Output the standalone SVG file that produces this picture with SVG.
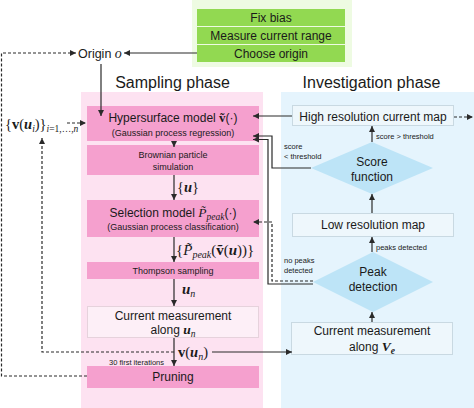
<svg xmlns="http://www.w3.org/2000/svg" width="474" height="408" viewBox="0 0 474 408">
<style>
.t{font-family:"Liberation Sans",Arial,sans-serif;fill:#1a1a1a}
.m{font-family:"Liberation Serif","DejaVu Serif",serif;fill:#1a1a1a}
.c{text-anchor:middle}
.pk{fill:#f5a0ce}
.bx{fill:#eef7fc;stroke:#c9d9e2;stroke-width:1}
.gr{fill:#92d951}
.ln{fill:none;stroke:#2a2a2a;stroke-width:1.2}
.ds{stroke-dasharray:3 2}
</style>
<defs>
<marker id="a" markerUnits="userSpaceOnUse" markerWidth="6" markerHeight="6" refX="6" refY="3" orient="auto"><path d="M0,0 L6,3 L0,6 z" fill="#2a2a2a"/></marker>
</defs>
<rect x="0" y="0" width="474" height="408" fill="#ffffff"/>
<g id="setup">
<rect x="192" y="0" width="160" height="67" fill="#eefbe2"/>
<rect class="gr" x="197" y="9" width="148" height="17"/>
<rect class="gr" x="197" y="27" width="148" height="17"/>
<rect class="gr" x="197" y="45" width="148" height="17"/>
<text class="t c" x="271" y="21.5" font-size="12">Fix bias</text>
<text class="t c" x="271" y="39.5" font-size="12">Measure current range</text>
<text class="t c" x="271" y="57.5" font-size="12">Choose origin</text>
</g>
<g id="sampling-phase">
<rect x="81" y="92" width="182" height="316" fill="#fde2f1"/>
<text class="t c" x="172.5" y="88" font-size="16">Sampling phase</text>
</g>
<g id="investigation-phase">
<rect x="281" y="92" width="193" height="316" fill="#e5f4fd"/>
<text class="t c" x="371.5" y="88" font-size="16">Investigation phase</text>
</g>
<g id="origin">
<text class="t" x="78" y="57.5" font-size="12.5">Origin <tspan class="m" font-style="italic" font-size="14">o</tspan></text>
</g>
<g id="vlist">
<text class="m" x="5" y="129" font-size="14.5">{<tspan font-weight="bold">v</tspan>(<tspan font-weight="bold" font-style="italic">u</tspan><tspan font-size="9.5" font-style="italic" dy="3">i</tspan><tspan dy="-3">)}</tspan><tspan font-size="9.5" font-style="italic" dy="3">i</tspan><tspan font-size="9.5">=1,…,</tspan><tspan font-size="9.5" font-style="italic">n</tspan></text>
</g>
<g id="hypersurface">
<rect class="pk" x="87" y="106" width="172" height="35"/>
<text class="t c" x="173" y="122" font-size="12">Hypersurface model <tspan class="m" font-weight="bold" font-size="13">ṽ</tspan>(·)</text>
<text class="t c" x="173" y="135.5" font-size="9">(Gaussian process regression)</text>
</g>
<g id="brownian">
<rect class="pk" x="87" y="145" width="172" height="30"/>
<text class="t c" x="173" y="158" font-size="9">Brownian particle</text>
<text class="t c" x="173" y="170" font-size="9">simulation</text>
</g>
<g id="selection">
<rect class="pk" x="87" y="200" width="172" height="37"/>
<text class="t c" x="173" y="217" font-size="12">Selection model <tspan class="m" font-style="italic" font-size="13.5">P̃</tspan><tspan class="m" font-style="italic" font-size="9.5" dy="3">peak</tspan><tspan dy="-3">(·)</tspan></text>
<text class="t c" x="173" y="230" font-size="9">(Gaussian process classification)</text>
</g>
<g id="thompson">
<rect class="pk" x="87" y="262" width="172" height="17"/>
<text class="t c" x="173" y="274" font-size="9">Thompson sampling</text>
</g>
<g id="current-u">
<rect x="87.5" y="306.5" width="171" height="31" fill="#fdeff7" stroke="#e6d2dc" stroke-width="1"/>
<text class="t c" x="173" y="319.5" font-size="12">Current measurement</text>
<text class="t c" x="173" y="334" font-size="12">along <tspan class="m" font-weight="bold" font-style="italic" font-size="13.5">u</tspan><tspan class="m" font-style="italic" font-size="9.5" dy="3">n</tspan></text>
</g>
<g id="pruning">
<rect class="pk" x="87" y="366" width="172" height="22"/>
<text class="t c" x="173" y="381" font-size="12">Pruning</text>
</g>
<g id="highres">
<rect class="bx" x="292.5" y="105.5" width="161" height="20"/>
<text class="t c" x="373" y="120.5" font-size="12">High resolution current map</text>
</g>
<g id="score">
<polygon points="372,142 433,168 372,194 311,168" fill="#bde4f7"/>
<text class="t c" x="372" y="166" font-size="12">Score</text>
<text class="t c" x="372" y="181" font-size="12">function</text>
</g>
<g id="lowres">
<rect class="bx" x="292.5" y="213.5" width="161" height="23"/>
<text class="t c" x="373" y="229" font-size="12">Low resolution map</text>
</g>
<g id="peak">
<polygon points="373,252 433,282 373,312 313,282" fill="#bde4f7"/>
<text class="t c" x="373" y="276" font-size="12">Peak</text>
<text class="t c" x="373" y="291" font-size="12">detection</text>
</g>
<g id="current-v">
<rect class="bx" x="291.5" y="322.5" width="161" height="32"/>
<text class="t c" x="372" y="335" font-size="12">Current measurement</text>
<text class="t c" x="372" y="350.5" font-size="12">along <tspan class="m" font-weight="bold" font-style="italic" font-size="13.5">V</tspan><tspan class="m" font-weight="bold" font-style="italic" font-size="9.5" dy="3">e</tspan></text>
</g>
<g id="connectors">
<path class="ln" d="M197,53 H124" marker-end="url(#a)"/>
<path class="ln ds" d="M87,376 H1.5 V53 H76" marker-end="url(#a)"/>
<path class="ln" d="M101,64 V116" marker-end="url(#a)"/>
<path class="ln ds" d="M67,123 H86" marker-end="url(#a)"/>
<path class="ln ds" d="M174,352 H42 V138" marker-end="url(#a)"/>
<path class="ln" d="M174,141 V147" marker-end="url(#a)"/>
<path class="ln" d="M174,175 V200" marker-end="url(#a)"/>
<path class="ln" d="M174,237 V262" marker-end="url(#a)"/>
<path class="ln" d="M174,279 V306" marker-end="url(#a)"/>
<path class="ln" d="M174,338 V366" marker-end="url(#a)"/>
<path class="ln" d="M212,352 H292" marker-end="url(#a)"/>
<path class="ln" d="M292,116 H253" marker-end="url(#a)"/>
<path class="ln" d="M311,168 H272 V136 H253" marker-end="url(#a)"/>
<path class="ln" d="M313,284 H268 V139.5 H253" marker-end="url(#a)"/>
<path class="ln ds" d="M313,281 H272 V222 H253" marker-end="url(#a)"/>
<path class="ln" d="M372,142 V126" marker-end="url(#a)"/>
<path class="ln" d="M372,213 V194" marker-end="url(#a)"/>
<path class="ln" d="M372,252 V237" marker-end="url(#a)"/>
<path class="ln" d="M372,322 V312" marker-end="url(#a)"/>
<path class="ln ds" d="M454,117 H473" marker-end="url(#a)"/>
</g>
<g id="labels">
<text class="m" x="177" y="192" font-size="14.5">{<tspan font-weight="bold" font-style="italic">u</tspan>}</text>
<text class="m" x="176" y="255" font-size="15">{<tspan font-style="italic">P̃</tspan><tspan font-style="italic" font-size="10" dy="3">peak</tspan><tspan dy="-3">(</tspan><tspan font-weight="bold">ṽ</tspan>(<tspan font-weight="bold" font-style="italic">u</tspan>))}</text>
<text class="m" x="182" y="294" font-size="15"><tspan font-weight="bold" font-style="italic">u</tspan><tspan font-style="italic" font-size="10" dy="3">n</tspan></text>
<text class="m" x="178" y="357" font-size="14.5"><tspan font-weight="bold">v</tspan>(<tspan font-weight="bold" font-style="italic">u</tspan><tspan font-style="italic" font-size="10" dy="3">n</tspan><tspan dy="-3">)</tspan></text>
<text class="t" x="109" y="364.5" font-size="7.5">30 first iterations</text>
<text class="t" x="376" y="138.5" font-size="7.5">score &gt; threshold</text>
<text class="t" x="284" y="148.5" font-size="7.5">score</text>
<text class="t" x="284" y="158.5" font-size="7.5">&lt; threshold</text>
<text class="t" x="376" y="249.5" font-size="7.5">peaks detected</text>
<text class="t" x="284" y="262.5" font-size="7.5">no peaks</text>
<text class="t" x="284" y="272.5" font-size="7.5">detected</text>
</g>
</svg>
